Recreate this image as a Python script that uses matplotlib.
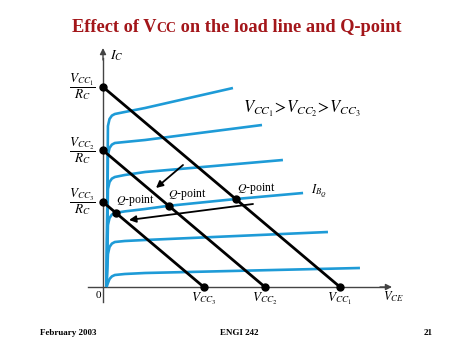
import numpy as np
import matplotlib
matplotlib.use("Agg")
import matplotlib.pyplot as plt

plt.rcParams['mathtext.fontset'] = 'stix'
plt.rcParams['font.family'] = ['Liberation Serif', 'DejaVu Serif']

# ---------------- data (VCE in V, IC in mA) ----------------
vcc_values = [12.0, 8.2, 5.1]          # VCC1 > VCC2 > VCC3
rc_kohm = 1.2
vcc_labels = [r'$V_{CC_1}$', r'$V_{CC_2}$', r'$V_{CC_3}$']
intercept_labels = [r'$\dfrac{V_{CC_1}}{R_C}$', r'$\dfrac{V_{CC_2}}{R_C}$', r'$\dfrac{V_{CC_3}}{R_C}$']

curve1_v = [0.18, 0.25, 0.33, 0.45, 0.6, 1.1, 2.13, 6.58]
curve1_i = [0.0, 8.05, 8.4, 8.57, 8.65, 8.75, 8.95, 9.95]
curve2_v = [0.18, 0.25, 0.33, 0.45, 0.6, 1.1, 2.13, 8.05]
curve2_i = [0.0, 6.6, 6.95, 7.12, 7.2, 7.25, 7.35, 8.1]
curve3_v = [0.18, 0.25, 0.33, 0.45, 0.6, 1.1, 2.13, 9.11]
curve3_i = [0.0, 4.9, 5.25, 5.42, 5.5, 5.6, 5.75, 6.35]
ibq_v = [0.18, 0.25, 0.33, 0.45, 0.6, 1.1, 2.13, 3.24, 6.73, 10.13]
ibq_i = [0.0, 3.1, 3.45, 3.62, 3.7, 3.78, 3.9, 4.05, 4.4, 4.7]
curve5_v = [0.18, 0.25, 0.33, 0.45, 0.6, 1.1, 2.13, 11.39]
curve5_i = [0.0, 1.65, 2.0, 2.17, 2.25, 2.3, 2.35, 2.75]
curve6_v = [0.18, 0.25, 0.33, 0.45, 0.6, 1.1, 2.13, 13.01]
curve6_i = [0.0, 0.2, 0.4, 0.53, 0.6, 0.65, 0.7, 0.95]

curves = [(curve1_v, curve1_i), (curve2_v, curve2_i), (curve3_v, curve3_i),
          (ibq_v, ibq_i), (curve5_v, curve5_i), (curve6_v, curve6_i)]

# ---------------- figure ----------------
W, H = 474, 355
fig = plt.figure(figsize=(W / 100, H / 100), dpi=100)
ax = fig.add_axes([0, 0, 1, 1])
ax.axis('off')

OX, OY, SX, SY = 103, 287, 19.75, 20.0   # origin pixel and px per unit
ax.set_xlim(-OX / SX, (W - OX) / SX)
ax.set_ylim(-(H - OY) / SY, OY / SY)


def P(px, py):
    return ((px - OX) / SX, (OY - py) / SY)


blue = '#1E9BD7'
axis_col = '#444444'

# axes with arrows
ax.plot([P(88, 0)[0], P(385, 0)[0]], [0, 0], color=axis_col, lw=1.0, zorder=2)
ax.annotate('', xy=P(392, 287), xytext=P(380, 287),
            arrowprops=dict(arrowstyle='-|>', color=axis_col, lw=1.0,
                            mutation_scale=9, shrinkA=0, shrinkB=0))
ax.plot([0, 0], [P(0, 302)[1], P(0, 58)[1]], color=axis_col, lw=1.0, zorder=2)
ax.annotate('', xy=P(103, 48), xytext=P(103, 60),
            arrowprops=dict(arrowstyle='-|>', color=axis_col, lw=1.0,
                            mutation_scale=9, shrinkA=0, shrinkB=0))

# characteristic curves
for v, i in curves:
    ax.plot(v, i, color=blue, lw=1.9, solid_joinstyle='round',
            solid_capstyle='butt', zorder=3)

# load lines
for vcc in vcc_values:
    ax.plot([0, vcc], [vcc / rc_kohm, 0], color='black', lw=2.0, zorder=4)
    ax.plot([0, vcc], [vcc / rc_kohm, 0], 'o', color='black', ms=5, zorder=5)

# Q-points: intersection of load line with the I_BQ curve
vs = np.linspace(0.3, 11, 4000)
ibq_dense = np.interp(vs, ibq_v, ibq_i)
for vcc in vcc_values:
    load = (vcc - vs) / rc_kohm
    k = np.argmin(np.abs(load - ibq_dense))
    ax.plot(vs[k], ibq_dense[k], 'o', color='black', ms=5, zorder=6)

# Q-point labels
for (px, py) in [(135, 201), (187, 195), (256, 189)]:
    ax.text(*P(px, py), r'$Q$-point', fontsize=8.5, ha='center', va='center', zorder=7)

ax.text(*P(311, 191), r'$I_{B_Q}$', fontsize=9, ha='left', va='center')

# arrows showing shift
ax.annotate('', xy=P(156, 188), xytext=P(183, 165),
            arrowprops=dict(arrowstyle='-|>', color='black', lw=1.3,
                            mutation_scale=10, shrinkA=0, shrinkB=0))
ax.annotate('', xy=P(129, 220), xytext=P(253, 204),
            arrowprops=dict(arrowstyle='-|>', color='black', lw=1.3,
                            mutation_scale=10, shrinkA=0, shrinkB=0))

# axis labels
ax.text(*P(110, 56), r'$I_C$', fontsize=10, ha='left', va='center')
ax.text(*P(383, 297), r'$V_{CE}$', fontsize=9, ha='left', va='center')
ax.text(*P(98, 296), '0', fontsize=8, ha='center', va='center')

for vcc, lab in zip(vcc_values, vcc_labels):
    ax.text(vcc, P(0, 299)[1], lab, fontsize=9.5, ha='center', va='center')

for vcc, lab in zip(vcc_values, intercept_labels):
    ax.text(P(96, 0)[0], vcc / rc_kohm, lab, fontsize=9.5, ha='right', va='center')

ax.text(*P(243, 109), r'$V_{CC_1}\!>\!V_{CC_2}\!>\!V_{CC_3}$', fontsize=12,
        ha='left', va='center')

# title with small "CC"
fig.canvas.draw()
renderer = fig.canvas.get_renderer()
title_col = '#A3161A'
parts = [('Effect of V', 13.2), ('CC', 10), (' on the load line and Q-point', 13.2)]
xpix = 72
for s, fs in parts:
    t = fig.text(xpix / W, 1 - 32.5 / H, s, fontsize=fs, fontweight='bold',
                 color=title_col, ha='left', va='baseline')
    bb = t.get_window_extent(renderer)
    xpix += bb.width

# footer
for s, xp, ha in [('February 2003', 40, 'left'), ('ENGI 242', 220, 'left'), ('21', 433, 'right')]:
    fig.text(xp / W, 1 - 335 / H, s, fontsize=6.5, fontweight='bold', ha=ha, va='baseline')

fig.savefig('out.png', dpi=100)
